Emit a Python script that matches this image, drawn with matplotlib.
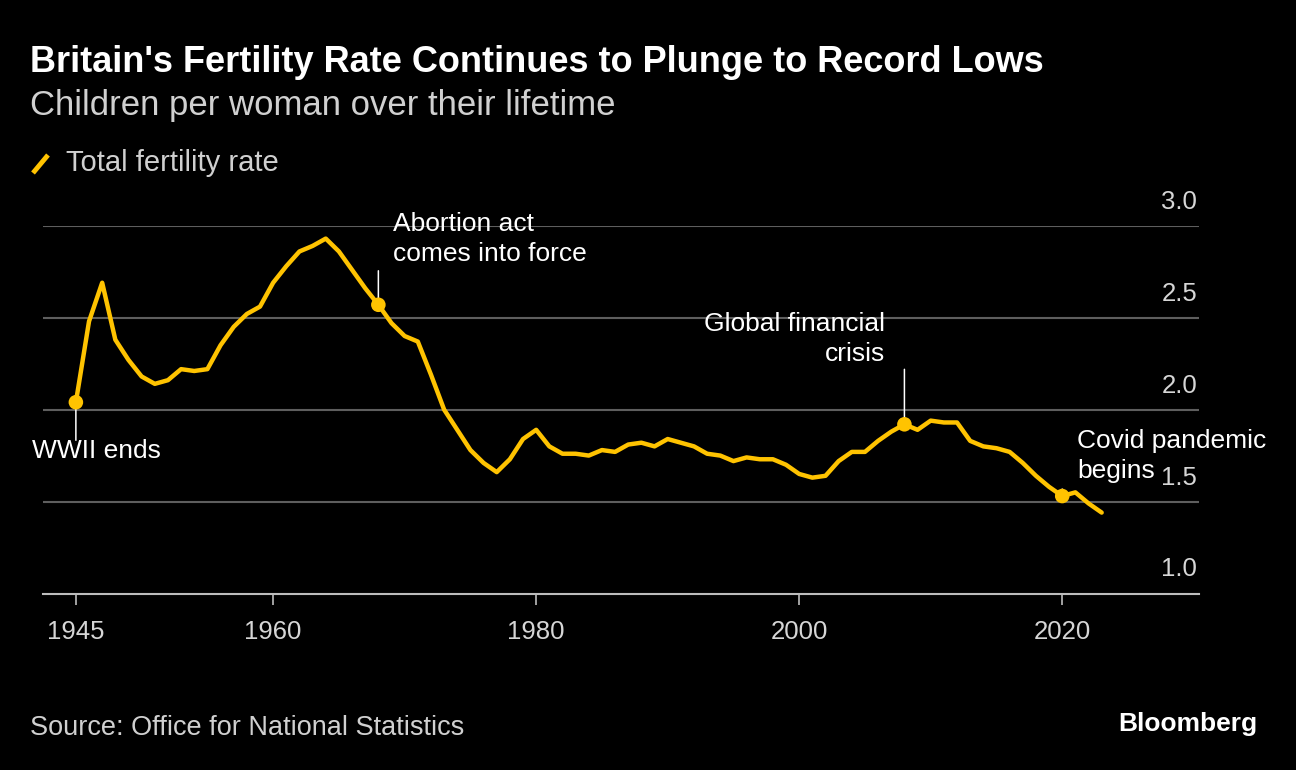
import matplotlib
matplotlib.use("Agg")
import matplotlib.pyplot as plt
from matplotlib.transforms import blended_transform_factory

plt.rcParams['font.family'] = ['Liberation Sans', 'DejaVu Sans']

# ---- data ----
years = list(range(1945, 2024))
tfr = [2.04, 2.48, 2.69, 2.38, 2.27, 2.18, 2.14, 2.16, 2.22, 2.21,
       2.22, 2.35, 2.45, 2.52, 2.56, 2.69, 2.78, 2.86, 2.89, 2.93,
       2.86, 2.76, 2.66, 2.57, 2.47, 2.40, 2.37, 2.19, 2.00, 1.89,
       1.78, 1.71, 1.66, 1.73, 1.84, 1.89, 1.80, 1.76, 1.76, 1.75,
       1.78, 1.77, 1.81, 1.82, 1.80, 1.84, 1.82, 1.80, 1.76, 1.75,
       1.72, 1.74, 1.73, 1.73, 1.70, 1.65, 1.63, 1.64, 1.72, 1.77,
       1.77, 1.83, 1.88, 1.92, 1.89, 1.94, 1.93, 1.93, 1.83, 1.80,
       1.79, 1.77, 1.71, 1.64, 1.58, 1.53, 1.55, 1.49, 1.44]
x_ticks = [1945, 1960, 1980, 2000, 2020]
y_ticks = [1.0, 1.5, 2.0, 2.5, 3.0]
y_tick_labels = ["1.0", "1.5", "2.0", "2.5", "3.0"]
event_years = [1945, 1968, 2008, 2020]
event_labels = [["WWII ends"], ["Abortion act", "comes into force"],
                ["Global financial", "crisis"], ["Covid pandemic", "begins"]]

YELLOW = '#FFC300'
BG = '#000000'
W, H = 1296, 770

fig = plt.figure(figsize=(W / 100, H / 100), dpi=100, facecolor=BG)
ax = fig.add_axes([43 / W, 1 - 593.5 / H, (1199 - 43) / W, (593.5 - 225.7) / H])
ax.set_facecolor(BG)
ax.set_xlim(1942.5, 2030.4)
ax.set_ylim(1.0, 3.0)

for s in ax.spines.values():
    s.set_visible(False)
ax.spines['bottom'].set_visible(True)
ax.spines['bottom'].set_color('#bdbdbd')
ax.spines['bottom'].set_linewidth(1.5)

ax.set_yticks(y_ticks)
ax.set_yticklabels([])
ax.tick_params(axis='y', length=0)
for yv in y_ticks[1:]:
    ax.axhline(yv, color='#5e5e5e', lw=1.5, zorder=1)

ax.set_xticks(x_ticks)
ax.set_xticklabels([str(v) for v in x_ticks])
ax.tick_params(axis='x', length=8, width=1.2, color='#bdbdbd', labelcolor='#d6d6d6',
               labelsize=18.5, pad=11)

trans = blended_transform_factory(ax.transAxes, ax.transData)
for yv, lab in zip(y_ticks, y_tick_labels):
    ax.annotate(lab, xy=(0.9985, yv), xycoords=trans, xytext=(0, 12),
                textcoords='offset pixels', ha='right', va='bottom',
                color='#d6d6d6', fontsize=18.5)

ax.plot(years, tfr, color=YELLOW, lw=3.2, solid_joinstyle='round',
        solid_capstyle='round', zorder=3)

ev_vals = [tfr[years.index(y)] for y in event_years]
ax.scatter(event_years, ev_vals, s=110, color=YELLOW, zorder=4, edgecolors='none')

# leader lines (offset in pixels) and text offsets (centre of the text block)
lead = [-38, 34, 55, 7]
txt_off = [(-44, -49), (15, 66), (-19, 85), (15, 40)]
has = ['left', 'left', 'right', 'left']
LINE_GAP = 30
for yr, v, lines, ld, (dx, dy), ha in zip(event_years, ev_vals, event_labels, lead, txt_off, has):
    ax.annotate('', xy=(yr, v), xytext=(0, ld), textcoords='offset pixels',
                arrowprops=dict(arrowstyle='-', color='white', lw=1.1,
                                shrinkA=0, shrinkB=0), zorder=2)
    n = len(lines)
    for i, line in enumerate(lines):
        off_y = dy + (n - 1) / 2 * LINE_GAP - i * LINE_GAP
        ax.annotate(line, xy=(yr, v), xytext=(dx, off_y), textcoords='offset pixels',
                    ha=ha, va='center', color='white', fontsize=19, zorder=5)

# titles
fig.text(30 / W, 1 - 62 / H, "Britain's Fertility Rate Continues to Plunge to Record Lows",
         color='white', fontsize=26, fontweight='bold', va='center', ha='left')
fig.text(30 / W, 1 - 105 / H, "Children per woman over their lifetime",
         color='#d0d0d0', fontsize=25, va='center', ha='left')

# legend
fig.add_artist(plt.Line2D([33 / W, 48 / W], [1 - 173 / H, 1 - 155 / H],
                          color=YELLOW, lw=3.5, solid_capstyle='butt'))
fig.text(66 / W, 1 - 163 / H, "Total fertility rate", color='#d0d0d0',
         fontsize=21, va='center', ha='left')

fig.text(30 / W, 1 - 728 / H, "Source: Office for National Statistics",
         color='#d0d0d0', fontsize=19.5, va='center', ha='left')
fig.text(1257 / W, 1 - 724 / H, "Bloomberg", color='white', fontsize=19,
         fontweight='bold', va='center', ha='right')

fig.savefig('out.png', dpi=100, facecolor=BG)
